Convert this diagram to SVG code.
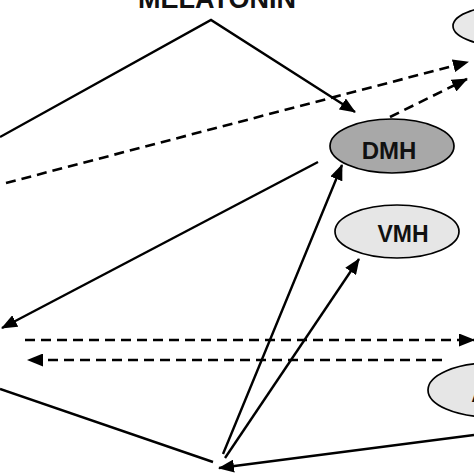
<svg xmlns="http://www.w3.org/2000/svg" width="474" height="474" viewBox="0 0 474 474">
<style>
.ln{fill:none;stroke:#000;stroke-width:2.4}
.ds{fill:none;stroke:#000;stroke-width:2.6;stroke-dasharray:10,6}
.nd{stroke:#000;stroke-width:1.7}
.lb{font-family:"Liberation Sans",Arial,sans-serif;font-weight:bold;fill:#111;text-anchor:middle}
</style>
<defs>
<marker id="ah" markerWidth="16" markerHeight="13" refX="15" refY="6.5" orient="auto" markerUnits="userSpaceOnUse">
<path d="M0,0 L16,6.5 L0,13 Z" fill="#000"/>
</marker>
</defs>
<rect width="474" height="474" fill="#fff"/>
<g id="melatonin">
<text class="lb" x="217" y="8" font-size="27">MELATONIN</text>
</g>
<g id="top-right-node">
<ellipse class="nd" cx="512" cy="26" rx="59" ry="21" fill="#e8e8e8"/>
</g>
<g id="dmh">
<ellipse class="nd" cx="392" cy="146" rx="62" ry="27" fill="#a8a8a8"/>
<text class="lb" x="389" y="159" font-size="24">DMH</text>
</g>
<g id="vmh">
<ellipse class="nd" cx="397" cy="231.5" rx="62" ry="26.5" fill="#e6e6e6"/>
<text class="lb" x="403" y="242" font-size="23">VMH</text>
</g>
<g id="bottom-right-node">
<ellipse class="nd" cx="490" cy="390" rx="62" ry="27" fill="#e6e6e6"/>
<text class="lb" x="480" y="402" font-size="24">A</text>
</g>
<g id="connectors">
<polyline class="ln" points="0,137 211,20 355,112" marker-end="url(#ah)"/>
<line class="ds" x1="6" y1="183" x2="468" y2="62" marker-end="url(#ah)"/>
<line class="ds" x1="390" y1="117" x2="467" y2="79" marker-end="url(#ah)"/>
<line class="ln" x1="318" y1="162" x2="2" y2="328" marker-end="url(#ah)"/>
<line class="ln" x1="223" y1="454" x2="342" y2="165" marker-end="url(#ah)"/>
<line class="ln" x1="225" y1="458" x2="359" y2="259" marker-end="url(#ah)"/>
<line class="ds" x1="25" y1="340" x2="474" y2="340" marker-end="url(#ah)"/>
<line class="ds" x1="442" y1="360" x2="28" y2="360" marker-end="url(#ah)"/>
<line class="ln" x1="0" y1="389" x2="213" y2="462"/>
<line class="ln" x1="474" y1="435" x2="219" y2="468" marker-end="url(#ah)"/>
</g>
</svg>
